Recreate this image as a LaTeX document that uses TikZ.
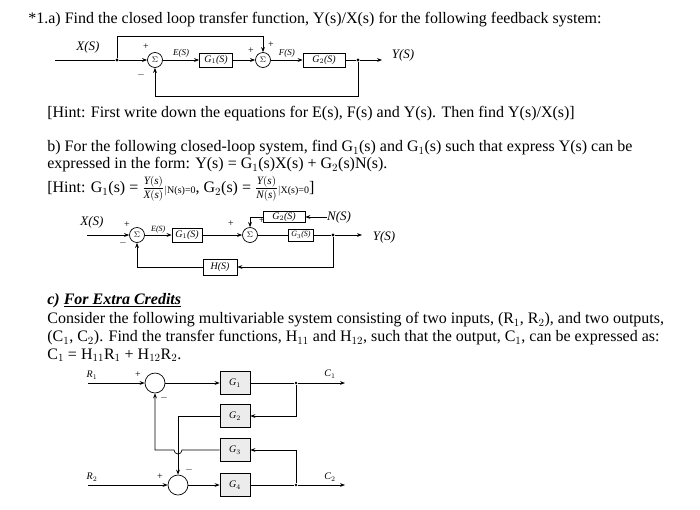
\documentclass[tikz,border=0pt]{standalone}
\usepackage{fontspec}
\setmainfont{Liberation Serif}
\usetikzlibrary{arrows.meta}
\begin{document}
\begin{tikzpicture}[x=1pt,y=-1pt,line width=0.7pt,
  txt/.style={anchor=west,inner sep=0pt,font=\fontsize{16}{17}\selectfont},
  blk/.style={draw,inner sep=1pt,minimum height=14pt,font=\fontsize{10}{11}\selectfont\itshape},
  gblk/.style={draw,fill=gray!15,minimum width=30pt,minimum height=23pt,font=\fontsize{10}{11}\selectfont\itshape},
  sumn/.style={draw,circle,inner sep=0pt,minimum size=15pt,font=\fontsize{8}{9}\selectfont},
  bsum/.style={draw,circle,inner sep=0pt,minimum size=20pt},
  lab/.style={inner sep=0pt,font=\fontsize{13}{14}\selectfont\itshape},
  slab/.style={inner sep=0pt,font=\fontsize{9}{10}\selectfont\itshape},
  tlab/.style={inner sep=0pt,font=\fontsize{10}{11}\selectfont\itshape},
  sl/.style={inner sep=0pt,font=\fontsize{10}{11}\selectfont},
  ar/.style={-{Stealth[length=5pt]}},
  dotn/.style={circle,fill,inner sep=1.2pt}]
\useasboundingbox (0,0) rectangle (700,509);
% texts
\node[txt] (t1) at (28,20) {*1.a) Find the closed loop transfer function, Y(s)/X(s) for the following feedback system:};
\node[txt] (t2) at (47,114) {[Hint: First write down the equations for E(s), F(s) and Y(s). Then find Y(s)/X(s)]};
\node[txt] (t3) at (47,148) {b) For the following closed-loop system, find G$_1$(s) and G$_1$(s) such that express Y(s) can be};
\node[txt] (t4) at (47,165) {expressed in the form: Y(s) = G$_1$(s)X(s) + G$_2$(s)N(s).};
\node[txt] (t5) at (47,189) {[Hint: G$_1$(s) = $\frac{\mathit{Y(s)}}{\mathit{X(s)}}$\raisebox{-1pt}{\fontsize{10}{10}\selectfont$|$N(s)=0}, G$_2$(s) = $\frac{\mathit{Y(s)}}{\mathit{N(s)}}$\raisebox{-1pt}{\fontsize{10}{10}\selectfont$|$X(s)=0}]};
\node[txt,font=\fontsize{16}{17}\selectfont\bfseries\itshape] (t6) at (47,301) {c) \underline{For Extra Credits}};
\node[txt] (t7) at (47,320) {Consider the following multivariable system consisting of two inputs, (R$_1$, R$_2$), and two outputs,};
\node[txt] (t8) at (47,338) {(C$_1$, C$_2$). Find the transfer functions, H$_{11}$ and H$_{12}$, such that the output, C$_1$, can be expressed as:};
\node[txt] (t9) at (47,355) {C$_1$ = H$_{11}$R$_1$ + H$_{12}$R$_2$.};

% diagram 1
\node[lab] (x1) at (88,47) {X(S)};
\coordinate (in1) at (55,60);
\node[dotn] (d1) at (117,60) {};
\node[sumn] (s1) at (155,60) {$\Sigma$};
\node[blk,minimum width=33pt] (g1) at (216,60) {G$_1$(S)};
\node[sumn] (s2) at (263,60) {$\Sigma$};
\node[blk,minimum width=42pt] (g2) at (324,60) {G$_2$(S)};
\node[dotn] (d2) at (358,60) {};
\coordinate (o1) at (382,60);
\node[lab] (y1) at (403,55) {Y(S)};
\draw (in1) -- (d1);
\draw[ar] (d1) -- (s1);
\draw[ar] (s1) -- node[slab,above=2pt]{E(S)} (g1);
\draw[ar] (g1) -- (s2);
\draw[ar] (s2) -- node[slab,above=2pt]{F(S)} (g2);
\draw (g2) -- (d2);
\draw[ar] (d2) -- (o1);
\draw[ar] (d1) |- (263,36) -- (s2);
\draw[ar] (d2) |- (155,96) -- (s1);
\node[sl] (p1) at (146,47) {+};
\node[sl] (m1) at (141,75) {$-$};
\node[sl] (p2) at (251,51) {+};
\node[sl] (p3) at (271,45) {+};

% diagram 2
\node[lab] (x2) at (92,222) {X(S)};
\coordinate (in2) at (87,235);
\node[sumn] (s3) at (137,235) {$\Sigma$};
\node[blk,minimum width=30pt] (g3) at (187,235) {G$_1$(S)};
\node[sumn] (s4) at (250,235) {$\Sigma$};
\node[blk,minimum width=42pt,minimum height=11pt] (g4) at (284,217) {G$_2$(S)};
\node[lab] (n2) at (339,217) {N(S)};
\node[blk,minimum width=25pt,minimum height=12pt,font=\fontsize{8}{9}\selectfont\itshape] (g5) at (301,235) {G$_3$(S)};
\node[dotn] (d3) at (333,235) {};
\coordinate (o2) at (362,235);
\node[lab] (y2) at (384,237) {Y(S)};
\node[blk,minimum width=34pt,minimum height=16pt] (h) at (220,267) {H(S)};
\draw[ar] (in2) -- (s3);
\draw[ar] (s3) -- node[tlab,above=1pt,font=\fontsize{8}{9}\selectfont\itshape]{E(S)} (g3);
\draw[ar] (g3) -- (s4);
\draw (s4) -- (g5);
\draw (g5) -- (d3);
\draw[ar] (d3) -- (o2);
\draw[ar] (n2) -- (g4);
\draw[ar] (g4) -| (s4);
\draw[ar] (d3) |- (h);
\draw[ar] (h) -| (s3);
\node[sl] (p4) at (127,225) {+};
\node[sl] (m2) at (123,243) {$-$};
\node[sl] (p5) at (231,224) {+};
\node[sl] (p6) at (262,221) {+};

% diagram 3
\node[tlab] (r1) at (92,375) {R$_1$};
\coordinate (rin1) at (88,383);
\node[bsum] (s5) at (155,383) {};
\node[gblk] (G1) at (235,383) {G$_1$};
\node[gblk] (G2) at (235,416) {G$_2$};
\node[gblk] (G3) at (235,450) {G$_3$};
\node[gblk] (G4) at (235,485) {G$_4$};
\node[bsum] (s6) at (178,485) {};
\node[tlab] (r2) at (92,477) {R$_2$};
\coordinate (rin2) at (88,485);
\node[dotn,inner sep=1pt] (d4) at (296,383) {};
\node[dotn,inner sep=1pt] (d5) at (296,485) {};
\coordinate (c1o) at (345,383);
\coordinate (c2o) at (345,485);
\node[tlab] (c1) at (330,374) {C$_1$};
\node[tlab] (c2) at (330,477) {C$_2$};
\draw[ar] (rin1) -- (s5);
\draw[ar] (s5) -- (G1);
\draw (G1) -- (d4);
\draw[ar] (d4) -- (c1o);
\draw[ar] (rin2) -- (s6);
\draw[ar] (s6) -- (G4);
\draw (G4) -- (d5);
\draw[ar] (d5) -- (c2o);
\draw[ar] (d4) |- (G2);
\draw[ar] (d5) |- (G3);
\draw[ar] (G2.west) -| (s6.north);
\draw[ar] (G3.west) -- (182,450) arc (0:180:4) -- (155,450) -- (s5.south);
\node[sl] (p7) at (138,375) {+};
\node[sl] (m3) at (164,398) {$-$};
\node[sl] (p8) at (160,477) {+};
\node[sl] (m4) at (189,470) {$-$};
\end{tikzpicture}
\end{document}
